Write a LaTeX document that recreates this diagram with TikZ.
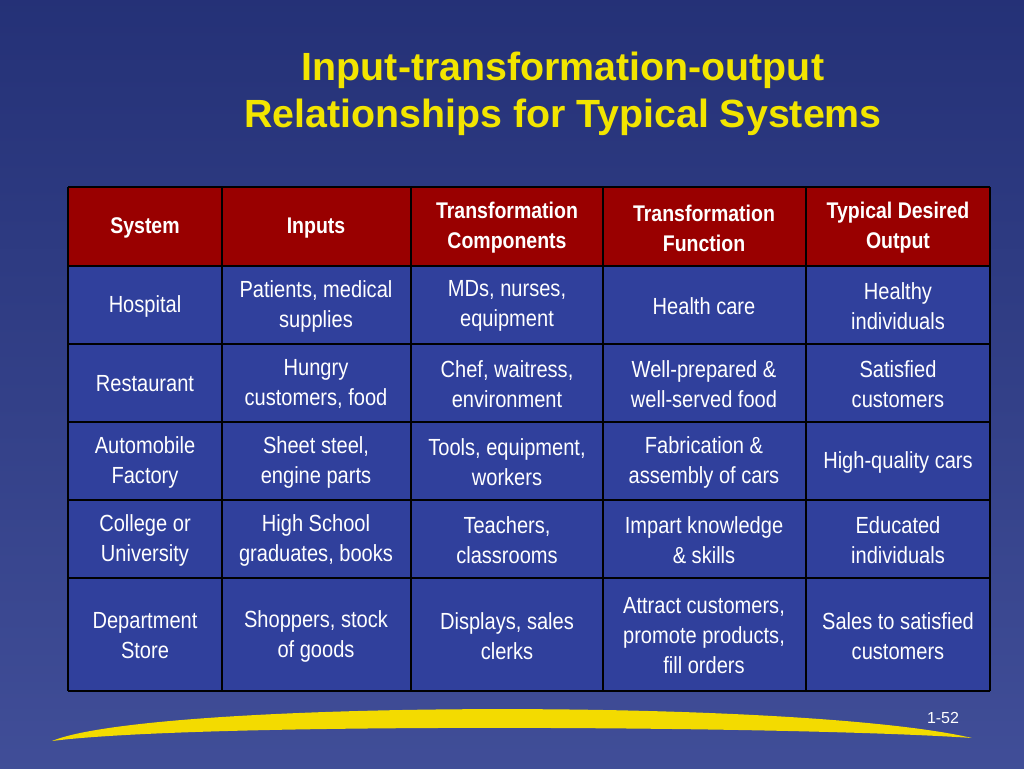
\documentclass[tikz,border=0pt]{standalone}
\usepackage{fontspec}
\setmainfont{Liberation Sans}
\newfontfamily\narrowfont[FakeStretch=0.86]{Liberation Sans}
\definecolor{slidebg}{HTML}{2B3A8C}
\definecolor{cellbg}{HTML}{30409C}
\definecolor{headred}{HTML}{990000}
\definecolor{titleyellow}{HTML}{F2E500}

\tikzset{
  cell/.style = {text=white, align=center, font=\narrowfont\fontsize{17.5}{22.5}\selectfont},
  headcell/.style = {cell, font=\narrowfont\bfseries\fontsize{17}{22.5}\selectfont}
}

\begin{document}
\begin{tikzpicture}[x = 0.75pt, y = -0.75pt]
\useasboundingbox (0,0) rectangle (1024,768);
\shade[top color=slidebg!85!black, bottom color=slidebg!90!white] (0,0) rectangle (1024,768);

% title
\node[text=titleyellow, align=center, font=\bfseries\fontsize{29.5}{35}\selectfont] (title) at (563,94)
  {Input-transformation-output\\Relationships for Typical Systems};

% table cells
\fill[headred] (68,187) rectangle (990,266);
\fill[cellbg] (68,266) rectangle (990,691);
\foreach \xa in {68,222,411,603,806,990}
  \draw[line width=1pt] (\xa,187) -- (\xa,691);
\foreach \ya in {187,266,344,422,500,578,691}
  \draw[line width=1pt] (68,\ya) -- (990,\ya);

% header
\node[headcell] (h1) at (145,228) {System};
\node[headcell] (h2) at (316,228) {Inputs};
\node[headcell] (h3) at (507,228) {Transformation\\Components};
\node[headcell] (h4) at (704,228) {Transformation\\Function};
\node[headcell] (h5) at (898,228) {Typical Desired\\Output};

% rows
\node[cell] (r1a) at (145,306) {Hospital};
\node[cell] (r1b) at (316,306) {Patients, medical\\supplies};
\node[cell] (r1c) at (507,306) {MDs, nurses,\\equipment};
\node[cell] (r1d) at (704,306) {Health care};
\node[cell] (r1e) at (898,306) {Healthy\\individuals};

\node[cell] (r2a) at (145,384) {Restaurant};
\node[cell] (r2b) at (316,384) {Hungry\\customers, food};
\node[cell] (r2c) at (507,384) {Chef, waitress,\\environment};
\node[cell] (r2d) at (704,384) {Well-prepared \&\\well-served food};
\node[cell] (r2e) at (898,384) {Satisfied\\customers};

\node[cell] (r3a) at (145,462) {Automobile\\Factory};
\node[cell] (r3b) at (316,462) {Sheet steel,\\engine parts};
\node[cell] (r3c) at (507,462) {Tools, equipment,\\workers};
\node[cell] (r3d) at (704,462) {Fabrication \&\\assembly of cars};
\node[cell] (r3e) at (898,462) {High-quality cars};

\node[cell] (r4a) at (145,540) {College or\\University};
\node[cell] (r4b) at (316,540) {High School\\graduates, books};
\node[cell] (r4c) at (507,540) {Teachers,\\classrooms};
\node[cell] (r4d) at (704,540) {Impart knowledge\\\& skills};
\node[cell] (r4e) at (898,540) {Educated\\individuals};

\node[cell] (r5a) at (145,636) {Department\\Store};
\node[cell] (r5b) at (316,636) {Shoppers, stock\\of goods};
\node[cell] (r5c) at (507,636) {Displays, sales\\clerks};
\node[cell] (r5d) at (704,636) {Attract customers,\\promote products,\\fill orders};
\node[cell] (r5e) at (898,636) {Sales to satisfied\\customers};

% swoosh and page number
\fill[titleyellow!90!orange] (52,741) .. controls (150,700) and (800,698) .. (972,738)
  .. controls (800,726) and (200,722) .. cycle;
\node[text=white, font=\fontsize{12}{14}\selectfont] (page) at (943,718) {1-52};
\end{tikzpicture}
\end{document}
